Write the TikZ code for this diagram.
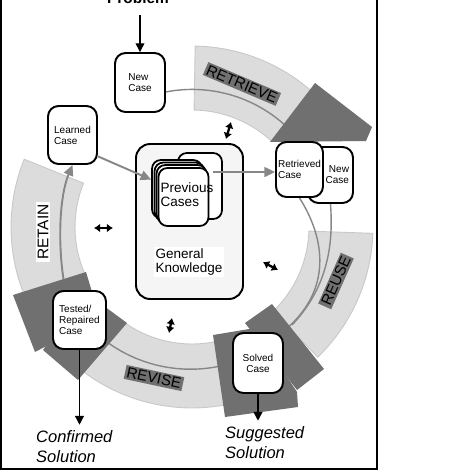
\documentclass[tikz,border=0pt]{standalone}
\usepackage{fontspec}
\setmainfont{Liberation Sans}
\usepackage{tikz}
\usetikzlibrary{arrows.meta,calc,backgrounds}

\definecolor{bandgray}{RGB}{220,220,220}
\definecolor{bandedge}{RGB}{200,200,200}
\definecolor{headgray}{RGB}{112,112,112}
\definecolor{flowgray}{RGB}{135,135,135}
\definecolor{kbgray}{RGB}{245,245,245}

\begin{document}
\begin{tikzpicture}[x=0.02cm, y=0.02cm,
    casebox/.style={draw, line width=1.1pt, fill=white, rounded corners=6pt, inner sep=1pt, align=left, font=\fontsize{5.7}{6.2}\selectfont},
    sheet/.style={draw, line width=1pt, fill=white, rounded corners=5pt, minimum width=1.0cm, minimum height=1.16cm},
    band/.style={fill=bandgray, draw=bandedge, line width=0.5pt},
    head/.style={fill=headgray},
    phase/.style={fill=headgray, inner sep=1pt, font=\fontsize{8.6}{9}\selectfont},
    outtext/.style={align=left, font=\fontsize{9.4}{11.4}\selectfont\itshape},
    arrow/.style={-{Triangle[length=5pt,width=5pt]}, line width=0.8pt},
    flow/.style={-{Triangle[length=6pt,width=5.5pt]}, draw=flowgray, line width=1.1pt},
    ringline/.style={draw=flowgray, line width=0.8pt},
    twoway/.style={{Latex[length=3.5pt,width=5pt]}-{Latex[length=3.5pt,width=5pt]}, line width=1.3pt}
]
\useasboundingbox (0,0) rectangle (474,-474);
\coordinate (C) at (192,-227);

% cases
\node[casebox, minimum width=1.0cm, minimum height=1.18cm] (newcase) at (140,-82.5) {New\\Case};
\node[casebox, minimum width=0.98cm, minimum height=1.16cm] (learned) at (72.5,-135) {Learned\\Case};
\node[casebox, minimum width=1.06cm, minimum height=1.16cm] (tested) at (79.5,-320) {Tested/\\Repaired\\Case};
\node[casebox, minimum width=1.0cm, minimum height=1.2cm, align=center] (solved) at (258,-363) {Solved\\Case};
\node[casebox, minimum width=0.9cm, minimum height=1.12cm, text width=0.74cm, align=right] (newcaseb) at (330.5,-175) {New\\Case};
\node[casebox, minimum width=0.94cm, minimum height=1.1cm] (retrieved) at (299.5,-169.5) {Retrieved\\Case};

\coordinate (reuseA) at (285,-330);
\coordinate (reuseB) at (292,-325);

\begin{scope}[on background layer]
% the four phases
\foreach \a/\b in {89/47, -2/-46, -78/-130, 158/204}
  \path[band] ($(C)+(\a:3.62cm)$) arc[start angle=\a, end angle=\b, radius=3.62cm]
    -- ($(C)+(\b:2.34cm)$) arc[start angle=\b, end angle=\a, radius=2.34cm] -- cycle;

% flow lines in the ring
\draw[ringline] (newcase.-20) arc[start angle=101, end angle=48, radius=2.76cm];
\draw[ringline] (solved.west) arc[start angle=-73, end angle=-125, radius=2.84cm];
\draw[flow] (tested.115) .. controls (58,-255) and (58,-200) .. (learned.south);
\draw[ringline] (retrieved.south) .. controls (320,-230) and (338,-285) .. (reuseA);
\draw[ringline] (newcaseb.south) .. controls (334,-250) and (325,-290) .. (reuseB);

% arrow heads of the phases
\fill[head] (315,-83) -- (372,-127) -- (366,-141) -- (270,-142) -- cycle;
\fill[head] (272,-304) -- (324,-369) -- (297,-390) -- (245,-323) -- cycle;
\fill[head] (213,-335) -- (255,-328) -- (297,-392) -- (298,-407) -- (225,-417) -- cycle;
\fill[head] (13,-295) -- (86,-272) -- (100,-318) -- (35,-352) -- cycle;
\fill[head] (85,-292) -- (127,-323) -- (78,-380) -- (43,-350) -- cycle;
\end{scope}

% general knowledge
\node[draw, line width=1.1pt, fill=kbgray, rounded corners=8pt, minimum width=2.14cm, minimum height=3.1cm] (gk) at (189.5,-221.5) {};
\node[sheet, minimum width=0.88cm, minimum height=1.32cm] (prevB) at (200,-186) {};
\foreach \n/\x/\y in {A/177/-189, B2/179.5/-191.5, C2/181.5/-194, D/183.5/-197}
  \node[sheet] (prev\n) at (\x,\y) {};
\node[align=left, inner sep=0pt, font=\fontsize{7.7}{8}\selectfont] (prevtxt) at (187,-195) {Previous\\Cases};
\node[fill=white, align=left, inner sep=1pt, font=\fontsize{7.7}{7.6}\selectfont] (gktxt) at (189,-262) {General\\Knowledge};

\coordinate (pvout) at (213,-172);
\draw[flow] (learned.-40) -- (prevA.160);
\draw[flow] (pvout) -- (pvout -| retrieved.west);

% phase names
\node[phase, rotate=-23] (retrieve) at (242,-84) {RETRIEVE};
\node[phase, rotate=66] (reuse) at (336,-281) {REUSE};
\node[phase, rotate=-12] (revise) at (154,-378) {REVISE};
\node[fill=white, inner sep=1pt, rotate=90, font=\fontsize{8.8}{9}\selectfont] (retain) at (43,-232) {RETAIN};

% in and out
\node[anchor=base, font=\fontsize{8.8}{9}\selectfont\bfseries] (problem) at (138,-3.5) {Problem};
\node[outtext, anchor=west] (confirmed) at (30,-447) {Confirmed\\Solution};
\node[outtext, anchor=west] (suggested) at (219,-443) {Suggested\\Solution};
\draw[arrow, shorten <=3pt] (problem.south -| newcase.north) -- (newcase.north);
\draw[arrow] (tested.south) -- (tested.south |- confirmed.north);
\draw[arrow] (solved.south) -- (solved.south |- suggested.north);

% knowledge exchange
\draw[twoway] (226,-139) -- (231,-122);
\draw[twoway] (94,-228) -- (113,-228);
\draw[twoway] (263,-262) -- (278,-270);
\draw[twoway] (169,-333) -- (172,-318);

% frame
\draw[line width=1.2pt] (1,10) -- (1,-469) -- (377,-469) -- (377,10);
\end{tikzpicture}
\end{document}
